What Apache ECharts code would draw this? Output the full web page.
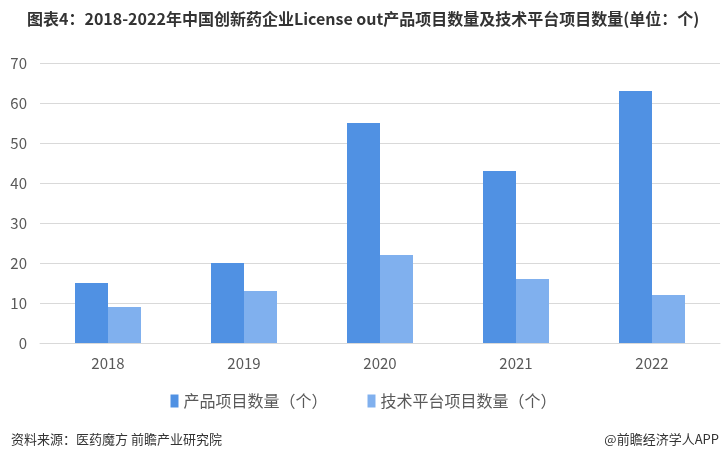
<!DOCTYPE html>
<html>
<head>
<meta charset="utf-8">
<script src="https://cdn.jsdelivr.net/npm/echarts@6/dist/echarts.min.js"></script>
<style>
  html, body { margin: 0; padding: 0; background: #fff; }
  #chart { width: 727px; height: 457px; }
</style>
</head>
<body>
<div id="chart"></div>
<script>
// data
const years = ['2018', '2019', '2020', '2021', '2022']
const productCount = [15, 20, 55, 43, 63]
const platformCount = [9, 13, 22, 16, 12]
const seriesNames = ['产品项目数量（个）', '技术平台项目数量（个）']

const font = '"Noto Sans CJK SC", "Noto Sans", sans-serif'
const chart = echarts.init(document.getElementById('chart'))

const option = {
  backgroundColor: '#fff',
  textStyle: { fontFamily: font },
  title: [
    {
      text: '图表4：2018-2022年中国创新药企业License out产品项目数量及技术平台项目数量(单位：个)',
      left: 22, top: 6,
      textStyle: { fontSize: 16, fontWeight: 'bold', color: '#333', fontFamily: font }
    },
    {
      text: '资料来源：医药魔方 前瞻产业研究院',
      left: 6, top: 428,
      textStyle: { fontSize: 13, fontWeight: 'normal', color: '#333', fontFamily: font }
    },
    {
      text: '@前瞻经济学人APP',
      right: 3, top: 428,
      textStyle: { fontSize: 13, fontWeight: 'normal', color: '#333', fontFamily: font }
    }
  ],
  legend: {
    bottom: 43, left: 'center',
    itemWidth: 8, itemHeight: 13, itemGap: 40,
    icon: 'rect',
    textStyle: { fontSize: 16, color: '#595959' },
    data: seriesNames
  },
  grid: { left: 40, right: 7, top: 63, bottom: 114, containLabel: false },
  xAxis: {
    type: 'category',
    data: years,
    axisLine: { lineStyle: { color: '#d9d9d9' } },
    axisTick: { show: false },
    axisLabel: { color: '#595959', fontSize: 15, margin: 13 }
  },
  yAxis: {
    type: 'value',
    min: 0, max: 70, interval: 10,
    axisLine: { show: false },
    axisTick: { show: false },
    axisLabel: { color: '#595959', fontSize: 15, margin: 13 },
    splitLine: { lineStyle: { color: '#d9d9d9' } }
  },
  series: [
    {
      name: seriesNames[0], type: 'bar', data: productCount,
      barWidth: 33, barGap: '0%',
      itemStyle: { color: '#5091e3' }
    },
    {
      name: seriesNames[1], type: 'bar', data: platformCount,
      barWidth: 33,
      itemStyle: { color: '#80b0ee' }
    }
  ]
}
chart.setOption(option)
</script>
</body>
</html>
